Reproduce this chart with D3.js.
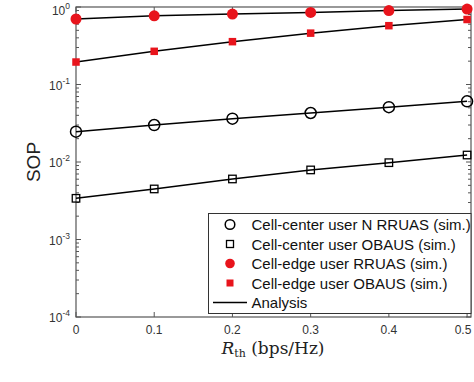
<!DOCTYPE html>
<html>
<head>
<meta charset="utf-8">
<script src="https://cdn.jsdelivr.net/npm/d3@7"></script>
<style>
  body { margin: 0; background: #fff; }
  svg { display: block; font-family: "Liberation Sans", Arial, sans-serif; }
</style>
</head>
<body>
<div class="container"></div>
<script>
const w = 474;
const h = 382;

// data
const rth = [0, 0.1, 0.2, 0.3, 0.4, 0.5];
const centerRRUAS = [0.0246, 0.0300, 0.0362, 0.0429, 0.0510, 0.0607];
const centerOBAUS = [0.0034, 0.00449, 0.00604, 0.0079, 0.0098, 0.0123];
const edgeRRUAS = [0.70, 0.77, 0.81, 0.85, 0.90, 0.94];
const edgeOBAUS = [0.195, 0.268, 0.357, 0.46, 0.574, 0.69];
const xTicks = [0, 0.1, 0.2, 0.3, 0.4, 0.5];
const yExps = [0, -1, -2, -3, -4];
const legendLabels = [
  "Cell-center user N RRUAS (sim.)",
  "Cell-center user OBAUS (sim.)",
  "Cell-edge user RRUAS (sim.)",
  "Cell-edge user OBAUS (sim.)",
  "Analysis"
];

const series = [
  { values: centerRRUAS, marker: "circle", fill: "none", stroke: "#000" },
  { values: centerOBAUS, marker: "square", fill: "none", stroke: "#000" },
  { values: edgeRRUAS, marker: "circle", fill: "#e8141c", stroke: "none" },
  { values: edgeOBAUS, marker: "square", fill: "#e8141c", stroke: "none" }
];

const pLeft = 76, pRight = 471, pTop = 7, pBottom = 317;

const x = d3.scaleLinear().domain([0, 0.505]).range([pLeft, pRight]);
const y = d3.scaleLog().domain([1e-4, 1]).range([pBottom, pTop]);

const svg = d3.select('.container').append('svg')
  .attr('width', w)
  .attr('height', h);

const axisColor = "#555";
const labelColor = "#333";

// minor ticks for the log axis
const minor = [];
for (let e = -4; e < 0; e++) {
  for (let k = 2; k <= 9; k++) minor.push(k * Math.pow(10, e));
}

const frame = svg.append('g');
// left + right ticks (inside)
frame.selectAll('.ytick')
  .data(minor.map(v => ({ v, len: 3 })).concat(yExps.map(e => ({ v: Math.pow(10, e), len: 5 }))))
  .enter()
  .append('g')
  .each(function(d) {
    const g = d3.select(this);
    g.append('line')
      .attr('x1', pLeft).attr('x2', pLeft + d.len)
      .attr('y1', y(d.v)).attr('y2', y(d.v))
      .attr('stroke', axisColor).attr('stroke-width', 1);
    g.append('line')
      .attr('x1', pRight).attr('x2', pRight - d.len)
      .attr('y1', y(d.v)).attr('y2', y(d.v))
      .attr('stroke', axisColor).attr('stroke-width', 1);
  });

// bottom + top ticks
frame.selectAll('.xtick')
  .data(xTicks)
  .enter()
  .append('g')
  .each(function(d) {
    const g = d3.select(this);
    g.append('line')
      .attr('x1', x(d)).attr('x2', x(d))
      .attr('y1', pBottom).attr('y2', pBottom - 5)
      .attr('stroke', axisColor);
    g.append('line')
      .attr('x1', x(d)).attr('x2', x(d))
      .attr('y1', pTop).attr('y2', pTop + 5)
      .attr('stroke', axisColor);
  });

frame.append('rect')
  .attr('x', pLeft).attr('y', pTop)
  .attr('width', pRight - pLeft).attr('height', pBottom - pTop)
  .attr('fill', 'none')
  .attr('stroke', axisColor)
  .attr('stroke-width', 1.2);

// x tick labels
svg.selectAll('.xlab')
  .data(xTicks)
  .enter()
  .append('text')
  .attr('x', d => Math.min(x(d), 463))
  .attr('y', 334)
  .attr('text-anchor', 'middle')
  .style('font-size', '12px')
  .style('fill', labelColor)
  .text(d => d === 0 ? "0" : d3.format(".1f")(d));

// y tick labels 10^e
yExps.forEach(e => {
  const t = svg.append('text')
    .attr('x', 70)
    .attr('y', y(Math.pow(10, e)) + (e === 0 ? 8 : 5))
    .attr('text-anchor', 'end')
    .style('font-size', '12px')
    .style('fill', labelColor);
  t.append('tspan').text('10');
  t.append('tspan')
    .attr('dy', -6)
    .style('font-size', '8.5px')
    .text(e === 0 ? '0' : '-' + (-e));
});

// axis titles
svg.append('text')
  .attr('transform', `translate(40, ${(pTop + pBottom) / 2}) rotate(-90)`)
  .attr('text-anchor', 'middle')
  .style('font-size', '19px')
  .style('fill', '#222')
  .text('SOP');

const xl = svg.append('text')
  .attr('x', 273)
  .attr('y', 354)
  .attr('text-anchor', 'middle')
  .style('font-family', '"DejaVu Serif", "Liberation Serif", serif')
  .style('font-size', '17px')
  .style('fill', '#222');
xl.append('tspan').style('font-style', 'italic').text('R');
xl.append('tspan').attr('dy', 3).style('font-size', '11px').text('th');
xl.append('tspan').attr('dy', -3).text(' (bps/Hz)');

// analysis lines
const line = d3.line()
  .x((d, i) => x(rth[i]))
  .y(d => y(d));

const plot = svg.append('g');

series.forEach(s => {
  plot.append('path')
    .datum(s.values)
    .attr('d', line)
    .attr('fill', 'none')
    .attr('stroke', '#000')
    .attr('stroke-width', 1.5);
});

function drawMarker(g, type, cx, cy, s, big) {
  if (type === 'circle') {
    g.append('circle')
      .attr('cx', cx).attr('cy', cy)
      .attr('r', big ? 5.5 : 4.8)
      .attr('fill', s.fill)
      .attr('stroke', s.stroke)
      .attr('stroke-width', 1.5);
  } else {
    const a = big ? 7.5 : 7;
    g.append('rect')
      .attr('x', cx - a / 2).attr('y', cy - a / 2)
      .attr('width', a).attr('height', a)
      .attr('fill', s.fill)
      .attr('stroke', s.stroke)
      .attr('stroke-width', 1.3);
  }
}

series.forEach(s => {
  s.values.forEach((v, i) => drawMarker(plot, s.marker, x(rth[i]), y(v), s, true));
});

// legend
const lg = svg.append('g');
lg.append('rect')
  .attr('x', 208.5).attr('y', 213.5)
  .attr('width', pRight - 208.5).attr('height', 100)
  .attr('fill', '#fff')
  .attr('stroke', '#333')
  .attr('stroke-width', 1);

legendLabels.forEach((lab, i) => {
  const cy = 224.5 + i * 19.5;
  if (i < 4) {
    drawMarker(lg, series[i].marker, 230, cy, series[i], false);
  } else {
    lg.append('line')
      .attr('x1', 213).attr('x2', 247)
      .attr('y1', cy).attr('y2', cy)
      .attr('stroke', '#000')
      .attr('stroke-width', 1.5);
  }
  lg.append('text')
    .attr('x', 251.5)
    .attr('y', cy + 5.5)
    .style('font-size', '15px')
    .style('fill', '#111')
    .text(lab);
});
</script>
</body>
</html>
